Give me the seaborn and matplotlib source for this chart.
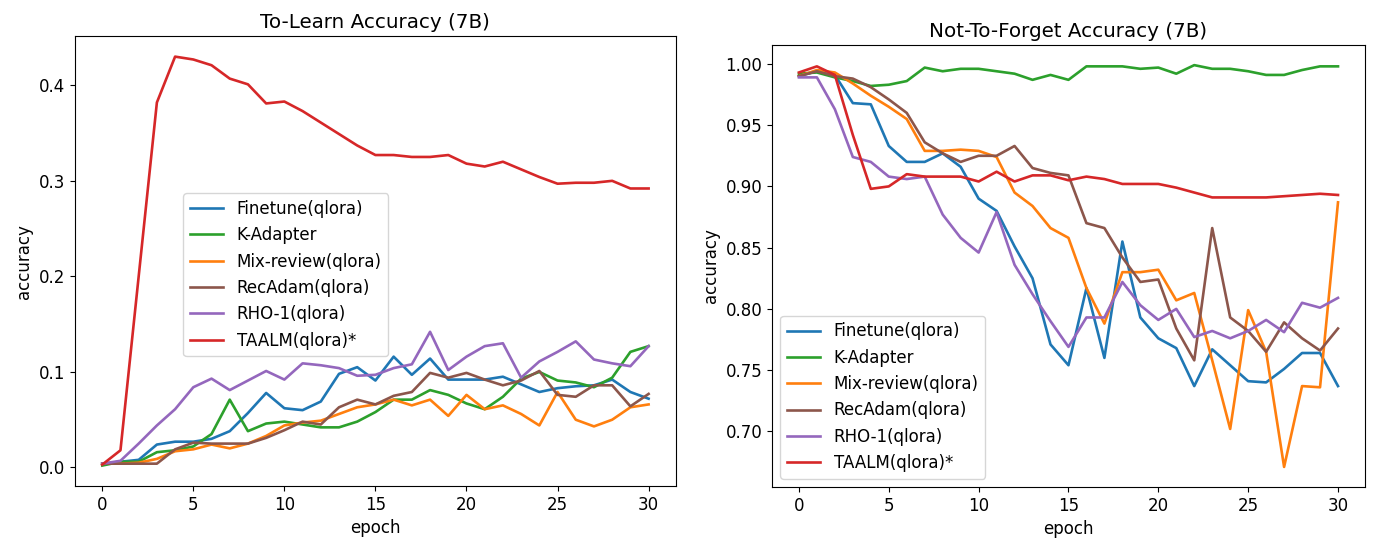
import numpy as np
import pandas as pd
import matplotlib
matplotlib.use("Agg")
import matplotlib.pyplot as plt
import seaborn as sns

# epochs and method names
epochs = list(range(31))
methods = ["Finetune(qlora)", "K-Adapter", "Mix-review(qlora)",
           "RecAdam(qlora)", "RHO-1(qlora)", "TAALM(qlora)*"]
colors = ["#1f77b4", "#2ca02c", "#ff7f0e", "#8c564b", "#9467bd", "#d62728"]

# To-Learn accuracy
learn_finetune = [0.004, 0.006, 0.008, 0.024, 0.027, 0.027, 0.030, 0.038, 0.057, 0.078, 0.062,
                  0.060, 0.069, 0.098, 0.105, 0.091, 0.116, 0.097, 0.114, 0.092, 0.092,
                  0.092, 0.095, 0.087, 0.079, 0.083, 0.085, 0.086, 0.092, 0.079, 0.072]
learn_kadapter = [0.002, 0.006, 0.006, 0.016, 0.018, 0.022, 0.035, 0.071, 0.038, 0.046, 0.048,
                  0.045, 0.042, 0.042, 0.048, 0.058, 0.071, 0.071, 0.081, 0.076, 0.067,
                  0.061, 0.074, 0.093, 0.100, 0.091, 0.089, 0.084, 0.094, 0.121, 0.127]
learn_mixreview = [0.004, 0.004, 0.005, 0.009, 0.017, 0.019, 0.024, 0.020, 0.025, 0.033, 0.044,
                   0.047, 0.049, 0.056, 0.063, 0.066, 0.071, 0.065, 0.071, 0.054, 0.076,
                   0.061, 0.065, 0.056, 0.044, 0.079, 0.050, 0.043, 0.050, 0.063, 0.066]
learn_recadam = [0.004, 0.004, 0.004, 0.004, 0.019, 0.026, 0.025, 0.025, 0.025, 0.031, 0.039,
                 0.048, 0.045, 0.063, 0.071, 0.066, 0.075, 0.079, 0.099, 0.094, 0.099,
                 0.092, 0.086, 0.091, 0.101, 0.076, 0.074, 0.086, 0.086, 0.064, 0.077]
learn_rho1 = [0.004, 0.007, 0.025, 0.044, 0.061, 0.084, 0.093, 0.081, 0.091, 0.101, 0.092,
              0.109, 0.107, 0.104, 0.096, 0.097, 0.104, 0.108, 0.142, 0.102, 0.116,
              0.127, 0.130, 0.094, 0.111, 0.121, 0.132, 0.113, 0.109, 0.106, 0.127]
learn_taalm = [0.003, 0.018, 0.200, 0.382, 0.430, 0.427, 0.421, 0.407, 0.401, 0.381, 0.383,
               0.373, 0.361, 0.349, 0.337, 0.327, 0.327, 0.325, 0.325, 0.327, 0.318,
               0.315, 0.320, 0.312, 0.304, 0.297, 0.298, 0.298, 0.300, 0.292, 0.292]

# Not-To-Forget accuracy
forget_finetune = [0.990, 0.994, 0.991, 0.968, 0.967, 0.933, 0.920, 0.920, 0.927, 0.916, 0.890,
                   0.880, 0.851, 0.825, 0.771, 0.754, 0.817, 0.760, 0.855, 0.793, 0.776,
                   0.768, 0.737, 0.767, 0.754, 0.741, 0.740, 0.751, 0.764, 0.764, 0.737]
forget_kadapter = [0.992, 0.993, 0.989, 0.986, 0.982, 0.983, 0.986, 0.997, 0.994, 0.996, 0.996,
                   0.994, 0.992, 0.987, 0.991, 0.987, 0.998, 0.998, 0.998, 0.996, 0.997,
                   0.992, 0.999, 0.996, 0.996, 0.994, 0.991, 0.991, 0.995, 0.998, 0.998]
forget_mixreview = [0.990, 0.995, 0.993, 0.984, 0.974, 0.965, 0.955, 0.929, 0.929, 0.930, 0.929,
                    0.924, 0.895, 0.884, 0.866, 0.858, 0.817, 0.788, 0.830, 0.830, 0.832,
                    0.807, 0.813, 0.758, 0.702, 0.799, 0.765, 0.671, 0.737, 0.736, 0.887]
forget_recadam = [0.990, 0.994, 0.990, 0.988, 0.981, 0.971, 0.960, 0.936, 0.927, 0.920, 0.925,
                  0.925, 0.933, 0.915, 0.911, 0.909, 0.870, 0.866, 0.842, 0.822, 0.824,
                  0.784, 0.758, 0.866, 0.793, 0.782, 0.765, 0.789, 0.776, 0.766, 0.784]
forget_rho1 = [0.989, 0.989, 0.963, 0.924, 0.920, 0.908, 0.906, 0.908, 0.877, 0.858, 0.846,
               0.879, 0.836, 0.812, 0.790, 0.769, 0.793, 0.793, 0.822, 0.803, 0.791,
               0.800, 0.777, 0.782, 0.776, 0.782, 0.791, 0.781, 0.805, 0.801, 0.809]
forget_taalm = [0.993, 0.998, 0.991, 0.942, 0.898, 0.900, 0.910, 0.908, 0.908, 0.908, 0.904,
                0.912, 0.904, 0.909, 0.909, 0.905, 0.908, 0.906, 0.902, 0.902, 0.902,
                0.899, 0.895, 0.891, 0.891, 0.891, 0.891, 0.892, 0.893, 0.894, 0.893]

learn = [learn_finetune, learn_kadapter, learn_mixreview, learn_recadam, learn_rho1, learn_taalm]
forget = [forget_finetune, forget_kadapter, forget_mixreview, forget_recadam, forget_rho1, forget_taalm]


def to_long(series):
    rows = []
    for name, vals in zip(methods, series):
        for e, v in zip(epochs, vals):
            rows.append({"epoch": e, "accuracy": v, "method": name})
    return pd.DataFrame(rows)


plt.rcParams["font.family"] = "DejaVu Sans"
plt.rcParams["font.size"] = 12
plt.rcParams["axes.titlesize"] = 14.3
palette = dict(zip(methods, colors))

fig = plt.figure(figsize=(13.8, 5.54), dpi=100)
ax1 = fig.add_axes([0.0543, 0.1227, 0.4355, 0.8120])
ax2 = fig.add_axes([0.5594, 0.1209, 0.4297, 0.7978])

sns.lineplot(data=to_long(learn), x="epoch", y="accuracy", hue="method",
             hue_order=methods, palette=palette, linewidth=1.9, ax=ax1)
ax1.set_title("To-Learn Accuracy (7B)")
ax1.legend(loc="upper left", bbox_to_anchor=(0.1802, 0.651), borderaxespad=0)

sns.lineplot(data=to_long(forget), x="epoch", y="accuracy", hue="method",
             hue_order=methods, palette=palette, linewidth=1.9, ax=ax2)
ax2.set_title("Not-To-Forget Accuracy (7B)")
ax2.legend(loc="lower left")

for ax in (ax1, ax2):
    ax.set_xticks([0, 5, 10, 15, 20, 25, 30])

fig.savefig("out.png", dpi=100)
